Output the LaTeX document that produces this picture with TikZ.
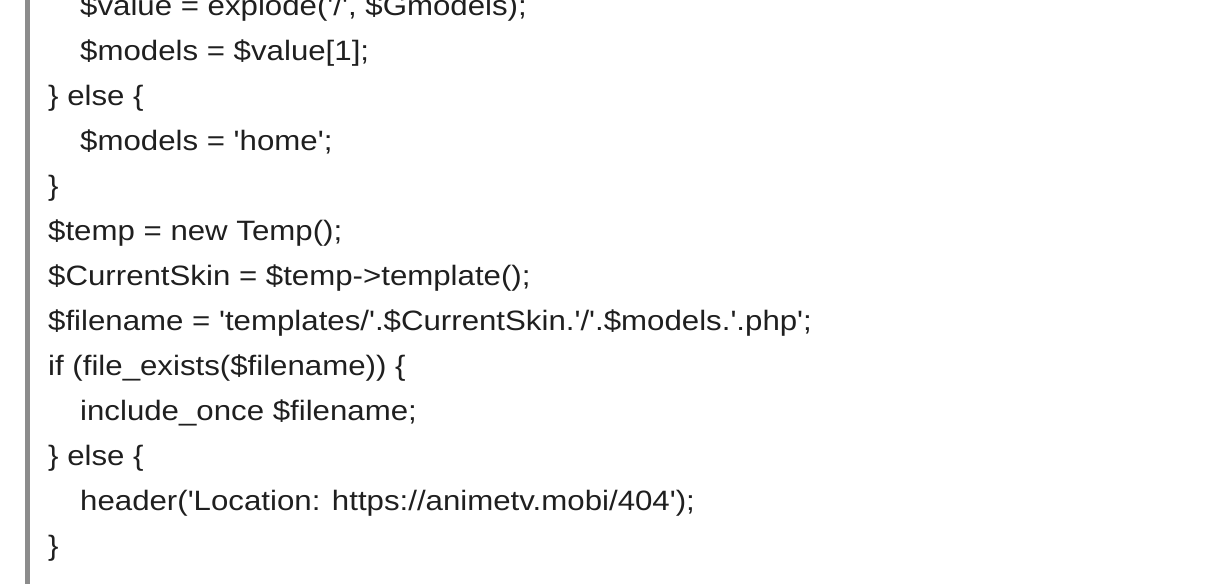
\documentclass[tikz,border=0pt]{standalone}
\usepackage{fontspec}
\newfontfamily\code{Liberation Sans}[FakeStretch=1.115]
\begin{document}
\begin{tikzpicture}[x=1pt,y=-1pt,ln/.style={anchor=base west,inner sep=0pt,font=\code\fontsize{28}{32}\selectfont,text=black!88}]
\useasboundingbox (0,0) rectangle (1212,584);
\clip (0,0) rectangle (1212,584);
\fill[black!45] (25,0) rectangle (30,584);
\node[ln] (l1) at (80,15) {\$value = explode('/', \$Gmodels);};
\node[ln] (l2) at (80,60) {\$models = \$value[1];};
\node[ln] (l3) at (48,105) {\} else \{};
\node[ln] (l4) at (80,150) {\$models = 'home';};
\node[ln] (l5) at (48,195) {\}};
\node[ln] (l6) at (48,240) {\$temp = new Temp();};
\node[ln] (l7) at (48,285) {\$CurrentSkin = \$temp->template();};
\node[ln] (l8) at (48,330) {\$filename = 'templates/'.\$CurrentSkin.'/'.\$models.'.php';};
\node[ln] (l9) at (48,375) {if (file\_exists(\$filename)) \{};
\node[ln] (l10) at (80,420) {include\_once \$filename;};
\node[ln] (l11) at (48,465) {\} else \{};
\node[ln] (l12) at (80,510) {header('Location: https://animetv.mobi/404');};
\node[ln] (l13) at (48,555) {\}};
\end{tikzpicture}
\end{document}
